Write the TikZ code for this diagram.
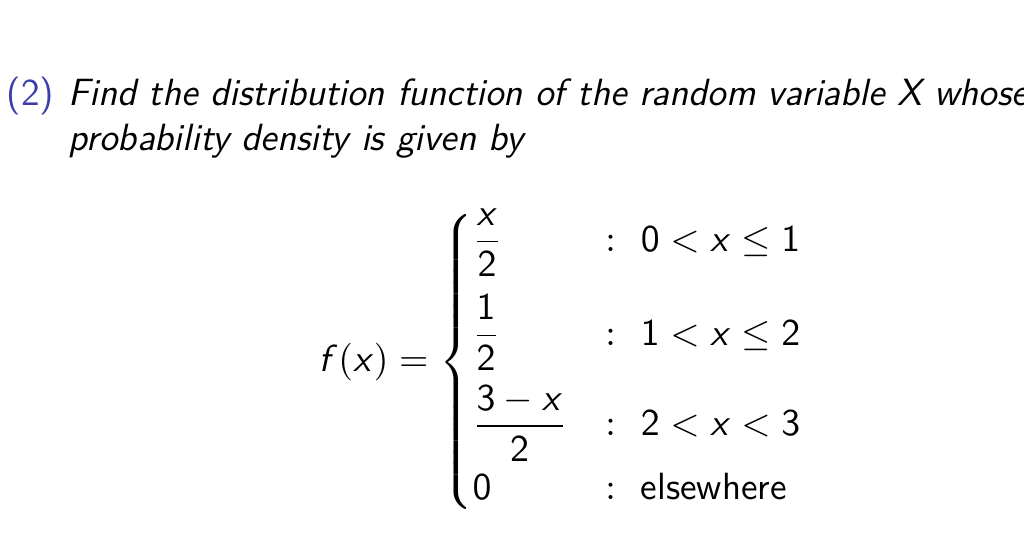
\documentclass[tikz,border=0pt]{standalone}
\usepackage{amsmath}
\DeclareMathAlphabet{\msi}{OT1}{cmss}{m}{sl}
\DeclareMathAlphabet{\msn}{OT1}{cmss}{m}{n}
\definecolor{bnum}{RGB}{60,60,170}
\newcommand{\vx}{\msi{x}}
\begin{document}
\begin{tikzpicture}[x=0.29pt,y=-0.29pt,
  txt/.style={inner sep=0pt,anchor=base west,font=\fontsize{11}{13}\selectfont\sffamily}]
\useasboundingbox (0,0) rectangle (1024,534);
\node[txt,text=bnum] (num) at (6,105) {(2)};
\node[txt] (l1) at (68,105) {\itshape Find the distribution function of the random variable X whose};
\node[txt] (l2) at (68,150) {\itshape probability density is given by};
\node[txt,anchor=west] (eq) at (318,362) {\fontsize{11}{13}\selectfont$\msi{f}(\vx)=\begin{cases}
\dfrac{\vx}{\msn{2}} & \colon\ \msn{0}<\vx\le \msn{1}\\[8pt]
\dfrac{\msn{1}}{\msn{2}} & \colon\ \msn{1}<\vx\le \msn{2}\\[7pt]
\dfrac{\msn{3}-\vx}{\msn{2}}\hspace{-1pt} & \colon\ \msn{2}<\vx< \msn{3}\\[0pt]
\msn{0} & \colon\ \text{\sffamily elsewhere}
\end{cases}$};
\end{tikzpicture}
\end{document}
